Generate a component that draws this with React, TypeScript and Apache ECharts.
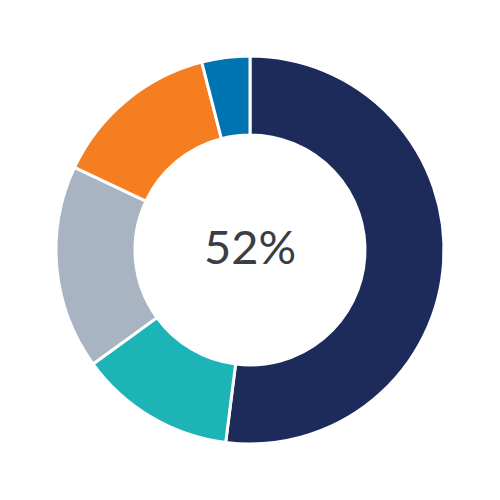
import React, { useEffect, useRef } from 'react';
import * as echarts from 'echarts';

const categories = ['A', 'B', 'C', 'D', 'E'];
const values = [52, 13, 17, 14, 4];
const colors = ['#1c2b59', '#1db4b8', '#a9b4c2', '#f47e20', '#0073b1'];
const centerLabel = '52%';

export default function App() {
  const chartRef = useRef<HTMLDivElement>(null);

  useEffect(() => {
    document.body.style.margin = '0';
    const chart = echarts.init(chartRef.current, null, { renderer: 'svg' });
    chart.setOption({
      animation: false,
      series: [
        {
          type: 'pie',
          center: ['50%', '50%'],
          radius: [115, 194],
          startAngle: 90,
          clockwise: true,
          label: { show: false },
          labelLine: { show: false },
          itemStyle: { borderColor: '#ffffff', borderWidth: 3 },
          data: categories.map((name, i) => ({
            name,
            value: values[i],
            itemStyle: { color: colors[i] },
          })),
        },
      ],
      graphic: {
        elements: [
          {
            type: 'text',
            x: 250,
            y: 246,
            style: {
              text: centerLabel,
              font: '47px Lato',
              fill: '#3a3d45',
              textAlign: 'center',
              textVerticalAlign: 'middle',
            },
          },
        ],
      },
    });
    return () => chart.dispose();
  }, []);

  return <div ref={chartRef} style={{ width: '500px', height: '500px' }} />;
}
